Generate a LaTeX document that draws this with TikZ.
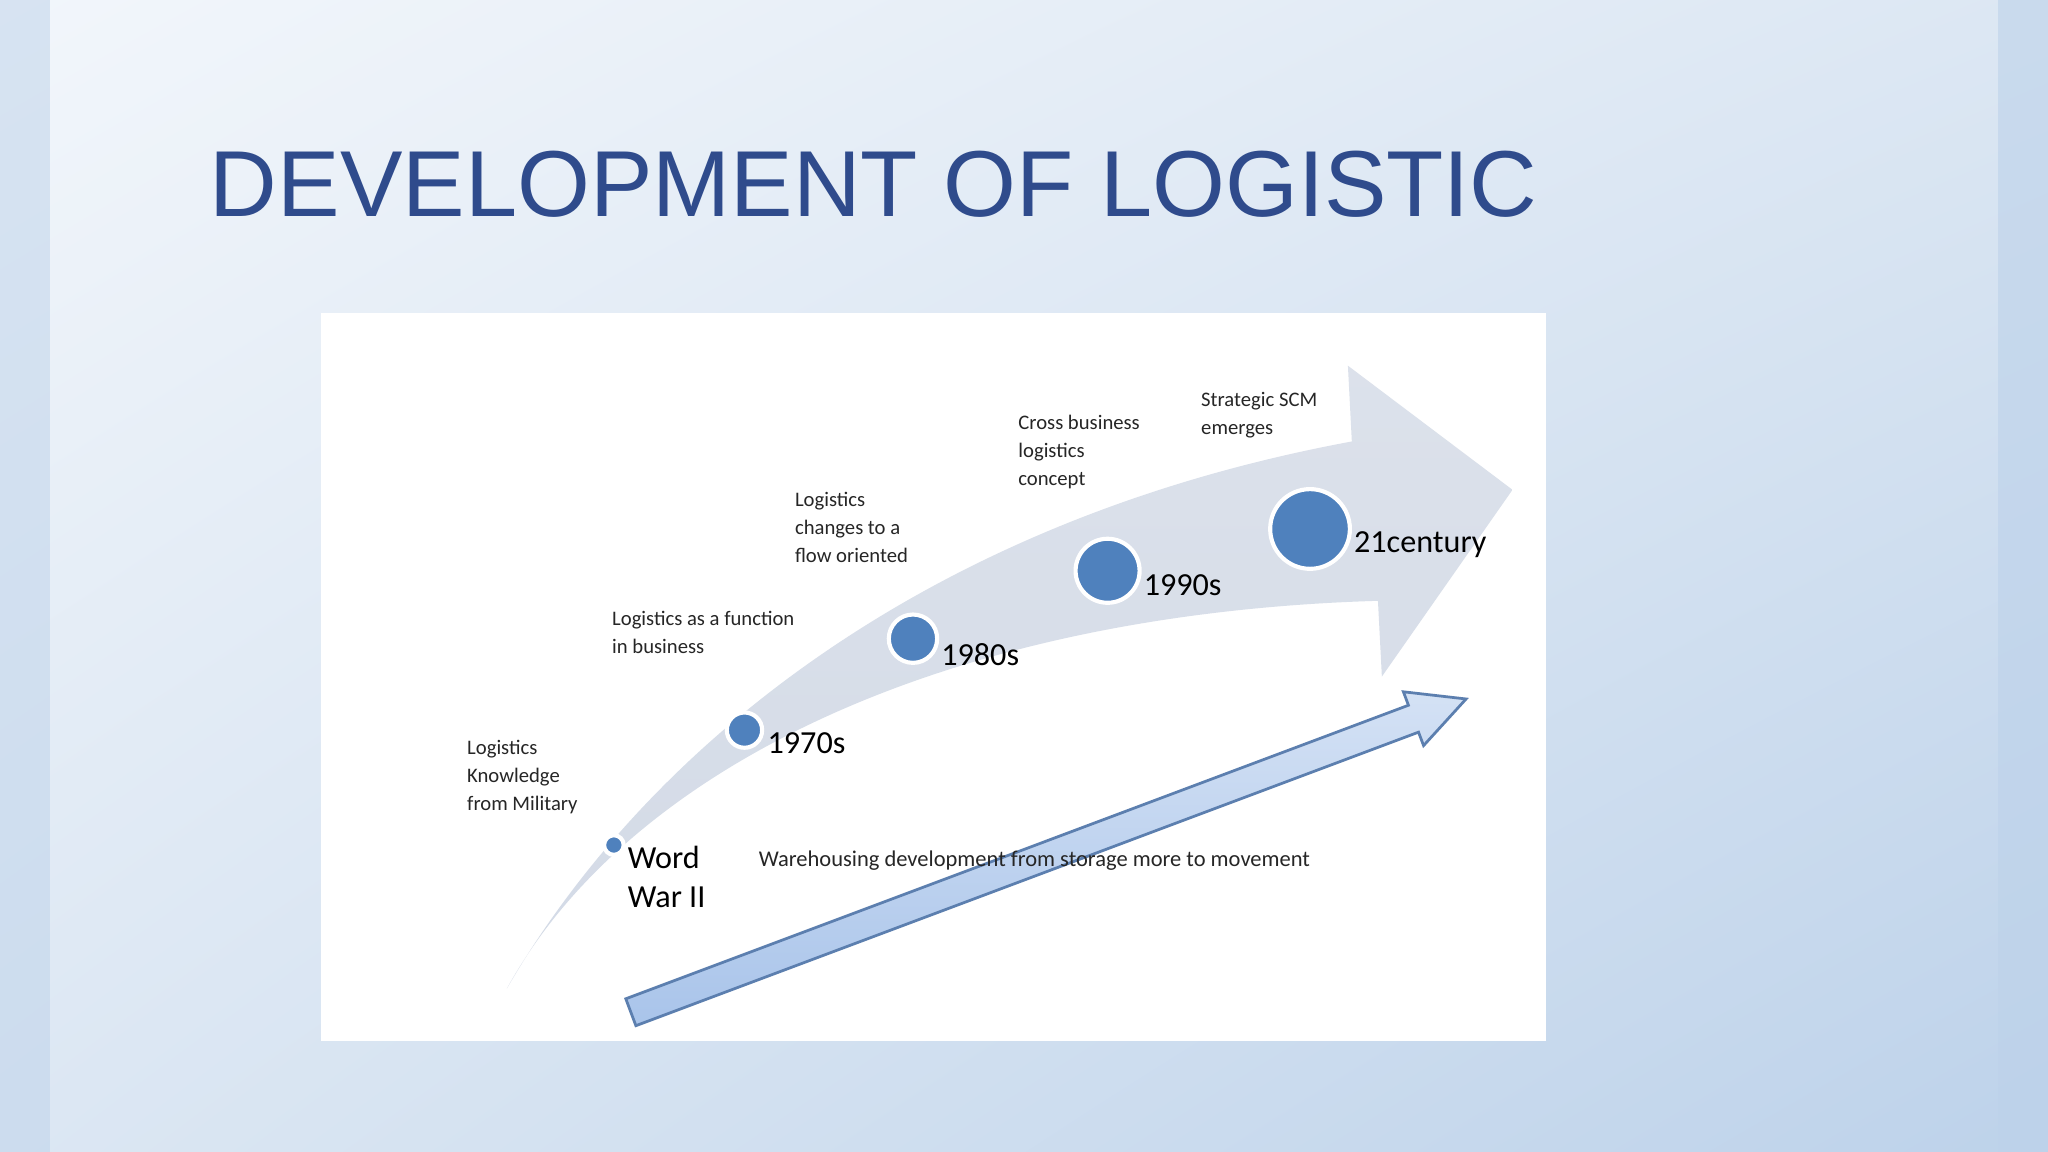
\documentclass[tikz,border=0pt]{standalone}
\usepackage{fontspec}
\usetikzlibrary{shadings}
\setmainfont{Carlito}
\newfontfamily\titlefont{Liberation Sans}
\definecolor{titleblue}{HTML}{2F4B8C}
\definecolor{dotblue}{HTML}{4F81BD}
\definecolor{bandgray}{HTML}{D3DAE6}
\definecolor{arrowblue}{HTML}{A9C4EA}
\definecolor{arrowedge}{HTML}{5C7FAF}
\definecolor{bglight}{HTML}{F2F6FB}
\definecolor{bgmid}{HTML}{DCE7F3}
\definecolor{bgdark}{HTML}{BDD2EA}
\begin{document}
\begin{tikzpicture}[x=0.01cm,y=-0.01cm,
  dot/.style={circle,fill=dotblue,draw=white,line width=0.9pt,inner sep=0pt},
  yearlbl/.style={anchor=north west,font=\fontsize{7}{8.5}\selectfont,align=left,inner sep=0pt},
  smalllbl/.style={anchor=north west,font=\fontsize{4.5}{6.1}\selectfont,align=left,inner sep=0pt,text=black!85}]
\useasboundingbox (0,0) rectangle (1568,882);
\shade[upper left=bglight,upper right=bgmid,lower left=bgmid,lower right=bgdark] (0,0) rectangle (1568,882);
\fill[bgdark,opacity=0.5] (0,0) rectangle (38,882);
\fill[bgdark,opacity=0.6] (1530,0) rectangle (1568,882);
\node[anchor=base west,inner sep=0pt,text=titleblue,font=\titlefont\fontsize{20.4}{24}\selectfont] (title) at (160,166) {DEVELOPMENT OF LOGISTIC};
\fill[white] (246,240) rectangle (1184,797);
% big curved arrow
\shade[top color=bandgray!80!white,bottom color=bandgray]
 (388,757) .. controls (490,580) and (700,400) .. (1035,338)
 -- (1032,280) -- (1158,375) -- (1058,518) -- (1055,460)
 .. controls (720,470) and (480,590) .. cycle;
% dots
\node[dot,minimum size=0.15cm] (d1) at (470,647) {};
\node[dot,minimum size=0.27cm] (d2) at (570,559) {};
\node[dot,minimum size=0.37cm] (d3) at (699,489) {};
\node[dot,minimum size=0.49cm] (d4) at (848,437) {};
\node[dot,minimum size=0.61cm] (d5) at (1003,405) {};
\node[yearlbl] (y1) at (480,647) {Word\\War II};
\node[yearlbl] (y2) at (587,560) {1970s};
\node[yearlbl] (y3) at (720,492) {1980s};
\node[yearlbl] (y4) at (875,439) {1990s};
\node[yearlbl] (y5) at (1036,406) {21century};
\node[smalllbl] (s1) at (357,566) {Logistics\\Knowledge\\from Military};
\node[smalllbl] (s2) at (468,467) {Logistics as a function\\in business};
\node[smalllbl] (s3) at (608,376) {Logistics\\changes to a\\flow oriented};
\node[smalllbl] (s4) at (779,317) {Cross business\\logistics\\concept};
\node[smalllbl] (s5) at (919,300) {Strategic SCM\\emerges};
% warehousing arrow
\begin{scope}[shift={(483,775)},rotate=20.56]
 \shade[top color=arrowblue!50!white,bottom color=arrowblue,draw=arrowedge,line width=0.6pt]
  (0,-11) -- (640,-11) -- (640,-22) -- (683,0) -- (640,22) -- (640,11) -- (0,11) -- cycle;
 \node[font=\fontsize{4.9}{6}\selectfont,text=black!85] (wh) at (330,0) {Warehousing development from storage more to movement};
\end{scope}
\end{tikzpicture}
\end{document}
